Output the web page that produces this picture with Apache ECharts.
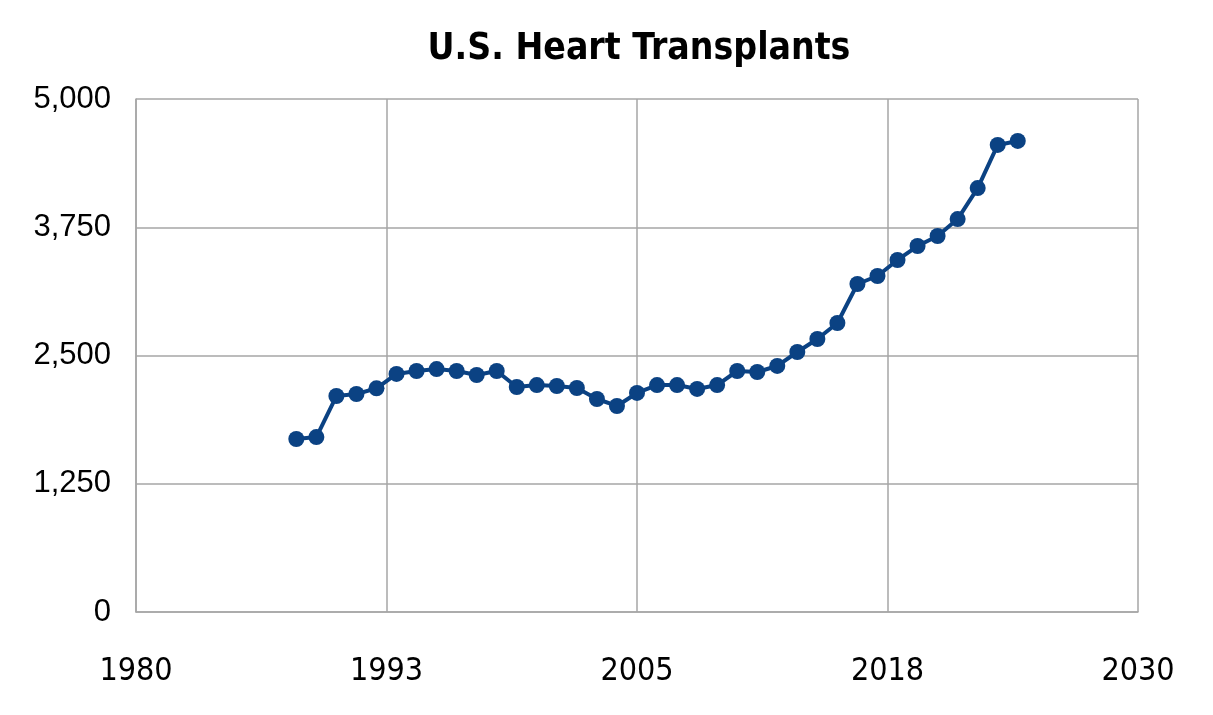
<!DOCTYPE html>
<html>
<head>
<meta charset="utf-8">
<script src="https://cdn.jsdelivr.net/npm/echarts@6/dist/echarts.min.js"></script>
<style>
html,body{margin:0;padding:0;background:#fff;}
#chart{width:1213px;height:715px;}
</style>
</head>
<body>
<div id="chart"></div>
<script>
const titleText = "U.S. Heart Transplants";
const years = [1988,1989,1990,1991,1992,1993,1994,1995,1996,1997,1998,1999,2000,2001,2002,2003,2004,2005,2006,2007,2008,2009,2010,2011,2012,2013,2014,2015,2016,2017,2018,2019,2020,2021,2022,2023,2024];
const transplants = [1686,1705,2105,2125,2180,2320,2349,2368,2349,2310,2349,2193,2212,2203,2183,2076,2008,2135,2212,2212,2174,2212,2349,2339,2398,2534,2661,2817,3197,3275,3431,3567,3665,3830,4132,4552,4591];
const xTicks = {min:1980, max:2030, interval:12.5};
const yTicks = {min:0, max:5000, interval:1250};

const narrow = "'Liberation Sans Narrow','DejaVu Sans Condensed','Roboto Condensed',sans-serif";
const chart = echarts.init(document.getElementById('chart'), null, {renderer:'canvas'});
chart.setOption({
  animation:false,
  backgroundColor:'#ffffff',
  title:{
    text:titleText,
    left:634, textAlign:'center', top:26,
    textStyle:{fontFamily:narrow, fontWeight:'bold', fontSize:37, color:'#000'}
  },
  grid:{left:136, right:75, top:99, bottom:103, containLabel:false},
  xAxis:{
    type:'value', min:xTicks.min, max:xTicks.max, interval:xTicks.interval,
    axisLine:{show:true, lineStyle:{color:'#a6a6a6', width:1.5}},
    axisTick:{show:false},
    splitLine:{show:true, lineStyle:{color:'#a6a6a6', width:1.5}},
    axisLabel:{
      margin:44, fontFamily:narrow, fontSize:32, color:'#000',
      formatter:v=>String(Math.round(v))
    }
  },
  yAxis:{
    type:'value', min:yTicks.min, max:yTicks.max, interval:yTicks.interval,
    axisLine:{show:true, lineStyle:{color:'#a6a6a6', width:1.5}},
    axisTick:{show:false},
    splitLine:{show:true, lineStyle:{color:'#a6a6a6', width:1.5}},
    axisLabel:{
      margin:25, fontFamily:"'Liberation Sans',Arial,sans-serif", fontSize:31, color:'#000',
      formatter:v=>v.toLocaleString('en-US')
    }
  },
  series:[{
    type:'line',
    data:years.map((y,i)=>[y,transplants[i]]),
    symbol:'circle', symbolSize:16,
    lineStyle:{color:'#0b4283', width:4},
    itemStyle:{color:'#0b4283'}
  }]
});
</script>
</body>
</html>
